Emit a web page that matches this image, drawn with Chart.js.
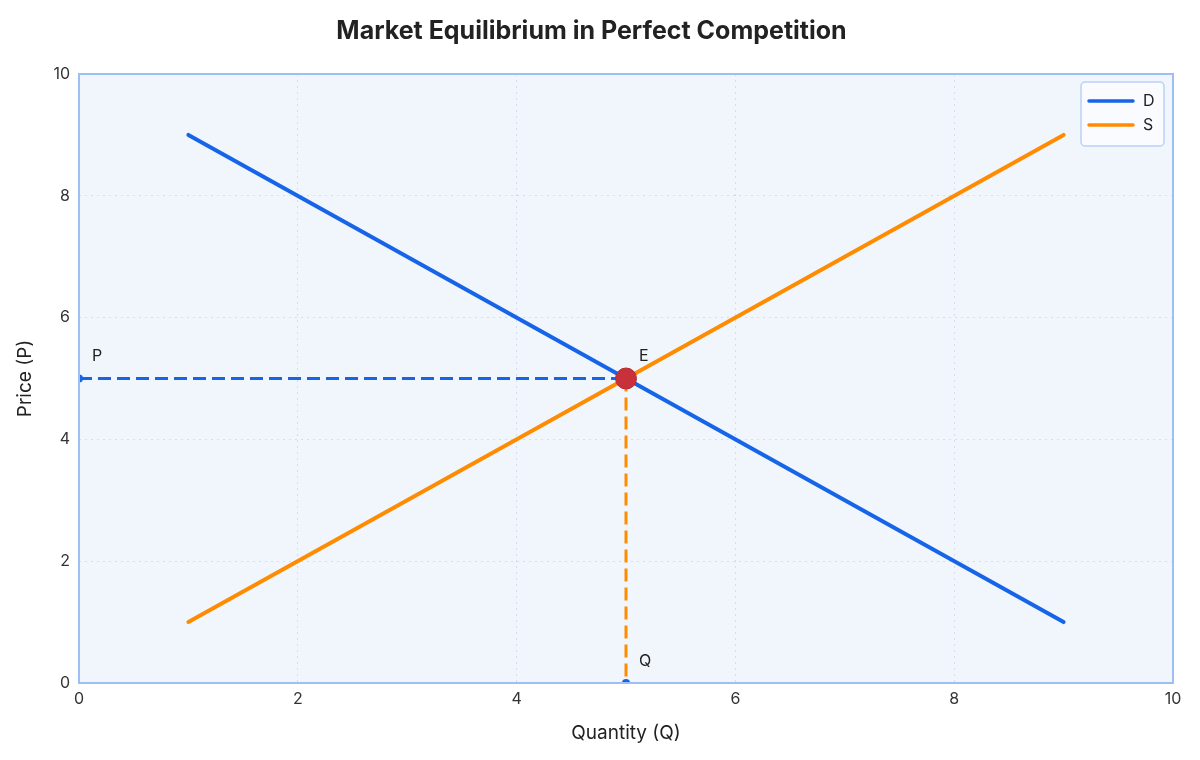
<!DOCTYPE html>
<html>
<head>
<meta charset="utf-8">
<script src="https://cdn.jsdelivr.net/npm/chart.js@4/dist/chart.umd.min.js"></script>
<style>
  html, body { margin: 0; padding: 0; background: #ffffff; }
  #wrap { width: 1200px; height: 760px; }
</style>
</head>
<body>
<div id="wrap"><canvas id="chart" width="1200" height="760"></canvas></div>
<script>
// curve endpoints (quantity, price)
const demandQ = [1, 9];
const demandP = [9, 1];
const supplyQ = [1, 9];
const supplyP = [1, 9];
const eqQ = 5;
const eqP = 5;
const axisTicks = [0, 2, 4, 6, 8, 10];
const pointLabels = [
  { text: 'P', x: 0, y: 5 },
  { text: 'E', x: 5, y: 5 },
  { text: 'Q', x: 5, y: 0 },
];

const FONT = "Inter, 'Noto Sans', sans-serif";
const BLUE = '#1664e8';
const ORANGE = '#ff8c00';
const RED = '#c8313a';
const FRAME = '#9dbff3';

const toPts = (xs, ys) => xs.map((x, i) => ({ x, y: ys[i] }));

const frame = {
  id: 'frame',
  beforeDraw(chart) {
    const { ctx, chartArea: a } = chart;
    ctx.save();
    ctx.fillStyle = '#f1f6fd';
    ctx.fillRect(a.left, a.top, a.right - a.left, a.bottom - a.top);
    ctx.restore();
  },
  afterDatasetsDraw(chart) {
    const { ctx, chartArea: a, scales } = chart;
    ctx.save();
    ctx.strokeStyle = FRAME;
    ctx.lineWidth = 2;
    ctx.strokeRect(a.left, a.top, a.right - a.left, a.bottom - a.top);

    ctx.fillStyle = '#222';
    ctx.font = `16px ${FONT}`;
    ctx.textAlign = 'left';
    ctx.textBaseline = 'middle';
    pointLabels.forEach((l) => {
      ctx.fillText(l.text, scales.x.getPixelForValue(l.x) + 13, scales.y.getPixelForValue(l.y) - 22);
    });

    // legend box
    const items = chart.data.datasets.filter((d) => d.inLegend);
    const bx = a.right - 92, by = a.top + 8, bw = 83, bh = 64;
    ctx.fillStyle = 'rgba(255,255,255,0.6)';
    ctx.strokeStyle = '#b9d1f6';
    ctx.lineWidth = 1.5;
    ctx.beginPath();
    ctx.roundRect(bx, by, bw, bh, 4);
    ctx.fill();
    ctx.stroke();
    items.forEach((d, i) => {
      const y = by + 19 + i * 24;
      ctx.strokeStyle = d.borderColor;
      ctx.lineWidth = 3.5;
      ctx.lineCap = 'round';
      ctx.beginPath();
      ctx.moveTo(bx + 8, y);
      ctx.lineTo(bx + 52, y);
      ctx.stroke();
      ctx.fillStyle = '#222';
      ctx.fillText(d.label, bx + 62, y);
    });
    ctx.restore();
  },
};

const grid = {
  color: 'rgba(170,185,210,0.4)',
  lineWidth: 1,
  drawTicks: false,
};

new Chart(document.getElementById('chart'), {
  type: 'line',
  data: {
    datasets: [
      {
        label: 'D', inLegend: true, order: 3,
        data: toPts(demandQ, demandP),
        borderColor: BLUE, borderWidth: 4, pointRadius: 0, borderCapStyle: 'round',
      },
      {
        label: 'S', inLegend: true, order: 2,
        data: toPts(supplyQ, supplyP),
        borderColor: ORANGE, borderWidth: 4, pointRadius: 0, borderCapStyle: 'round',
      },
      {
        label: 'P guide', order: 4,
        data: [{ x: 0, y: eqP }, { x: eqQ, y: eqP }],
        borderColor: BLUE, borderWidth: 3, borderDash: [13, 6],
        pointRadius: [4, 0], pointBackgroundColor: BLUE, pointBorderWidth: 0,
      },
      {
        label: 'Q guide', order: 1,
        data: [{ x: eqQ, y: eqP }, { x: eqQ, y: 0 }],
        borderColor: ORANGE, borderWidth: 3, borderDash: [13, 6],
        pointRadius: [0, 4], pointBackgroundColor: BLUE, pointBorderWidth: 0,
      },
      {
        label: 'E', order: 0,
        data: [{ x: eqQ, y: eqP }],
        showLine: false,
        pointRadius: 10.5, pointBackgroundColor: RED, pointBorderColor: '#b22a32', pointBorderWidth: 1,
      },
    ],
  },
  options: {
    responsive: false,
    animation: false,
    layout: { padding: { left: 10, right: 27, bottom: 11, top: 0 } },
    plugins: {
      legend: { display: false },
      tooltip: { enabled: false },
      title: {
        display: true,
        text: 'Market Equilibrium in Perfect Competition',
        color: '#222',
        font: { family: FONT, size: 25, weight: 'bold' },
        padding: { top: 16, bottom: 28 },
      },
    },
    scales: {
      x: {
        type: 'linear', min: 0, max: 10,
        afterBuildTicks: (s) => { s.ticks = axisTicks.map((v) => ({ value: v })); },
        ticks: { color: '#333', font: { family: FONT, size: 16 }, padding: 7 },
        grid: { ...grid },
        border: { display: false, dash: [2, 4] },
        title: { display: true, text: 'Quantity (Q)', color: '#222', font: { family: FONT, size: 19 }, padding: { top: 6 } },
      },
      y: {
        type: 'linear', min: 0, max: 10,
        afterBuildTicks: (s) => { s.ticks = axisTicks.map((v) => ({ value: v })); },
        afterFit: (s) => { s.width = 69; },
        ticks: { color: '#333', font: { family: FONT, size: 16 }, padding: 9 },
        grid: { ...grid },
        border: { display: false, dash: [2, 4] },
        title: { display: true, text: 'Price (P)', color: '#222', font: { family: FONT, size: 19 }, padding: { bottom: 6 } },
      },
    },
  },
  plugins: [frame],
});
</script>
</body>
</html>
